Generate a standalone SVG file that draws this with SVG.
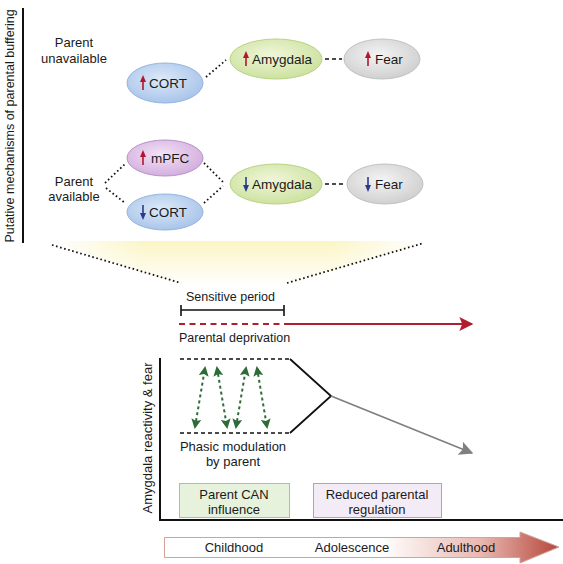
<svg xmlns="http://www.w3.org/2000/svg" width="563" height="564" viewBox="0 0 563 564">
<defs>
<radialGradient id="gBlue" cx="45%" cy="40%" r="60%"><stop offset="0" stop-color="#dde9f8"/><stop offset="1" stop-color="#a9c5ea"/></radialGradient>
<radialGradient id="gGreen" cx="45%" cy="40%" r="60%"><stop offset="0" stop-color="#f0f6da"/><stop offset="1" stop-color="#cde2a0"/></radialGradient>
<radialGradient id="gGray" cx="45%" cy="40%" r="60%"><stop offset="0" stop-color="#f4f4f4"/><stop offset="1" stop-color="#d0d0d0"/></radialGradient>
<radialGradient id="gPurple" cx="45%" cy="40%" r="60%"><stop offset="0" stop-color="#f3e2f5"/><stop offset="1" stop-color="#d3afdf"/></radialGradient>
<linearGradient id="gGlow" x1="0" y1="0" x2="0" y2="1"><stop offset="0" stop-color="#fbf5c4"/><stop offset="1" stop-color="#ffffff"/></linearGradient>
<linearGradient id="gGlowH" x1="0" y1="0" x2="1" y2="0"><stop offset="0" stop-color="#fff" stop-opacity="1"/><stop offset="0.25" stop-color="#fff" stop-opacity="0"/><stop offset="0.75" stop-color="#fff" stop-opacity="0"/><stop offset="1" stop-color="#fff" stop-opacity="1"/></linearGradient>
<linearGradient id="gTime" x1="164" y1="0" x2="560" y2="0" gradientUnits="userSpaceOnUse"><stop offset="0" stop-color="#ffffff"/><stop offset="0.55" stop-color="#ffffff"/><stop offset="0.8" stop-color="#e9b8b0"/><stop offset="1" stop-color="#b4463b"/></linearGradient>
<marker id="mGreen" viewBox="0 0 10 10" refX="8" refY="5" markerWidth="10" markerHeight="10" markerUnits="userSpaceOnUse" orient="auto-start-reverse"><path d="M0,0 L10,5 L0,10 L2,5 z" fill="#2f6b38"/></marker>
<marker id="mRed" viewBox="0 0 10 10" refX="9" refY="5" markerWidth="17" markerHeight="14" markerUnits="userSpaceOnUse" orient="auto"><path d="M0,0 L10,5 L0,10 L2,5 z" fill="#b01e30"/></marker>
<marker id="mGray" viewBox="0 0 10 10" refX="9" refY="5" markerWidth="17" markerHeight="14" markerUnits="userSpaceOnUse" orient="auto"><path d="M0,0 L10,5 L0,10 L2,5 z" fill="#808080"/></marker>
<g id="upA"><line x1="0" y1="7" x2="0" y2="-2" stroke="#b2162c" stroke-width="1.6"/><path d="M-3,-1 L0,-8 L3,-1 z" fill="#b2162c"/></g>
<g id="downA"><line x1="0" y1="-7" x2="0" y2="2" stroke="#2a3990" stroke-width="1.6"/><path d="M-3,1 L0,8 L3,1 z" fill="#2a3990"/></g>
</defs>
<style>
text{font-family:"Liberation Sans",Arial,sans-serif;font-size:13px;fill:#1a1a1a}
.c{text-anchor:middle}
.n{font-size:13.5px}
.blue{fill:url(#gBlue);stroke:#96b4de;stroke-width:1}
.green{fill:url(#gGreen);stroke:#b8d384;stroke-width:1}
.gray{fill:url(#gGray);stroke:#c2c2c2;stroke-width:1}
.purple{fill:url(#gPurple);stroke:#b892c8;stroke-width:1}
.dot{stroke:#111;stroke-width:1.8;stroke-dasharray:1.6 2.6;fill:none}
.dash{stroke:#111;stroke-width:1.6;stroke-dasharray:4 3;fill:none}
.garrow{stroke:#2f6b38;stroke-width:2;stroke-dasharray:3 3;fill:none;marker-start:url(#mGreen);marker-end:url(#mGreen)}
</style>
<rect width="563" height="564" fill="#ffffff"/>

<!-- glow -->
<polygon points="52,241 424,241 287,286 180,286" fill="url(#gGlow)"/>
<polygon points="52,241 424,241 287,286 180,286" fill="url(#gGlowH)"/>

<!-- left label -->
<g id="side-label">
<line x1="23" y1="8" x2="23" y2="243" stroke="#111" stroke-width="2"/>
<text transform="translate(14,126) rotate(-90)" class="c" style="font-size:12.5px">Putative mechanisms of parental buffering</text>
</g>

<g id="connectors">
<line x1="206" y1="77" x2="226" y2="60" class="dot"/>
<line x1="325" y1="59" x2="342" y2="59" class="dash"/>
<line x1="105" y1="183" x2="125" y2="164" class="dot"/>
<line x1="106" y1="188" x2="125" y2="203" class="dot"/>
<line x1="204" y1="163" x2="223" y2="182" class="dot"/>
<line x1="204" y1="203" x2="223" y2="186" class="dot"/>
<line x1="325" y1="184" x2="344" y2="184" class="dash"/>
<line x1="52" y1="245" x2="181" y2="283" class="dot"/>
<line x1="287" y1="283" x2="424" y2="243" class="dot"/>
</g>

<g id="label-unavailable"><text x="74" y="47" class="c">Parent</text><text x="74" y="63" class="c">unavailable</text></g>
<g id="label-available"><text x="74" y="186" class="c">Parent</text><text x="74" y="201" class="c">available</text></g>

<g id="cort-up"><ellipse cx="165" cy="83" rx="38" ry="20" class="blue"/><use href="#upA" x="143" y="83"/><text x="149" y="88" class="n">CORT</text></g>
<g id="amyg-up"><ellipse cx="276" cy="59" rx="46" ry="20" class="green"/><use href="#upA" x="246" y="59"/><text x="252" y="64" class="n">Amygdala</text></g>
<g id="fear-up"><ellipse cx="382" cy="59" rx="38" ry="20" class="gray"/><use href="#upA" x="368" y="59"/><text x="375" y="64" class="n">Fear</text></g>

<g id="mpfc"><ellipse cx="165" cy="158" rx="38" ry="18" class="purple"/><use href="#upA" x="143" y="158"/><text x="151" y="163" class="n">mPFC</text></g>
<g id="cort-down"><ellipse cx="165" cy="212" rx="38" ry="18" class="blue"/><use href="#downA" x="143" y="212"/><text x="149" y="217" class="n">CORT</text></g>
<g id="amyg-down"><ellipse cx="276" cy="184" rx="46" ry="20" class="green"/><use href="#downA" x="246" y="184"/><text x="252" y="189" class="n">Amygdala</text></g>
<g id="fear-down"><ellipse cx="385" cy="184" rx="38" ry="20" class="gray"/><use href="#downA" x="368" y="184"/><text x="375" y="189" class="n">Fear</text></g>

<!-- sensitive period -->
<g id="sensitive-period">
<text x="186" y="301" style="font-size:12.5px">Sensitive period</text>
<path d="M181,310 H284 M181,305 V316 M284,305 V316" stroke="#111" stroke-width="1.6" fill="none"/>
</g>
<g id="deprivation">
<line x1="179" y1="324" x2="284" y2="324" stroke="#b01e30" stroke-width="2" stroke-dasharray="6 4.5"/>
<line x1="284" y1="324" x2="472" y2="324" stroke="#b01e30" stroke-width="2" marker-end="url(#mRed)"/>
<text x="179" y="342" style="font-size:12.5px">Parental deprivation</text>
</g>

<!-- graph -->
<g id="axes">
<path d="M160,358 V520 H563" stroke="#111" stroke-width="2" fill="none"/>
<text transform="translate(152,438) rotate(-90)" class="c">Amygdala reactivity &amp; fear</text>
</g>
<g id="phasic">
<line x1="180" y1="359" x2="290" y2="359" class="dash"/>
<line x1="180" y1="433" x2="290" y2="433" class="dash"/>
<path d="M290,359 L331,396 L290,433" stroke="#111" stroke-width="1.8" fill="none"/>
<line x1="331" y1="396" x2="472" y2="453" stroke="#808080" stroke-width="1.8" marker-end="url(#mGray)"/>
<line x1="195" y1="427" x2="205" y2="368" class="garrow"/>
<line x1="217" y1="368" x2="227" y2="427" class="garrow"/>
<line x1="236" y1="427" x2="246" y2="368" class="garrow"/>
<line x1="257" y1="368" x2="267" y2="427" class="garrow"/>
<text x="233" y="451" class="c">Phasic modulation</text>
<text x="233" y="466" class="c">by parent</text>
</g>

<g id="box-can"><rect x="179.5" y="483.5" width="110" height="34" fill="#e6f2dc" stroke="#9ccc8a" stroke-width="1"/><text x="234" y="499" class="c">Parent CAN</text><text x="234" y="514" class="c">influence</text></g>
<g id="box-reduced"><rect x="313.5" y="483.5" width="128" height="34" fill="#f3ecf7" stroke="#b99ad0" stroke-width="1"/><text x="377" y="499" class="c">Reduced parental</text><text x="377" y="514" class="c">regulation</text></g>

<g id="timeline">
<path d="M164.5,537.5 H520 V532 L559,547 L520,563 V557.5 H164.5 Z" fill="url(#gTime)" stroke="#d4a098" stroke-width="1"/>
<text x="234" y="552" class="c">Childhood</text>
<text x="352" y="552" class="c">Adolescence</text>
<text x="466" y="552" class="c">Adulthood</text>
</g>
</svg>
